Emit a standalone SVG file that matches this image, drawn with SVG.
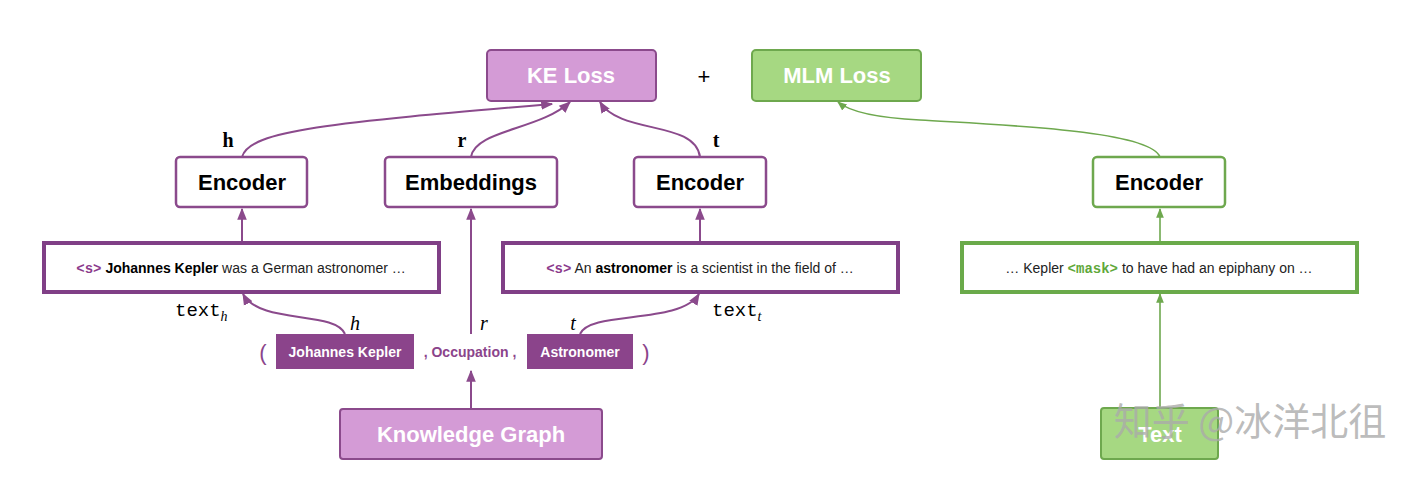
<svg xmlns="http://www.w3.org/2000/svg" width="1428" height="480" viewBox="0 0 1428 480">
<style>
.pb{fill:#d49bd6;stroke:#8b4a8c;stroke-width:2}
.gb{fill:#a6d882;stroke:#6ea84e;stroke-width:2}
.pw{fill:#fff;stroke:#8b4a8c;stroke-width:2.5}
.gw{fill:#fff;stroke:#6ea84e;stroke-width:2.5}
.pt{fill:#fff;stroke:#803f86;stroke-width:4}
.gt{fill:#fff;stroke:#6aaa4a;stroke-width:4}
.ent{fill:#8b448b}
.lt{font-family:"Liberation Sans",Arial,sans-serif;font-weight:bold;fill:#fff;text-anchor:middle}
.bt{font-family:"Liberation Sans",Arial,sans-serif;font-weight:bold;fill:#000;font-size:22px;text-anchor:middle}
.st{font-family:"Liberation Sans",Arial,sans-serif;font-size:14px;fill:#222;text-anchor:middle}
.m{font-family:"Liberation Serif",serif;font-size:20px;fill:#000}
.mono{font-family:"Liberation Mono",monospace;font-size:19px;fill:#000}
.pc{stroke:#8b4a8c;stroke-width:2;fill:none;marker-end:url(#ap)}
.gc{stroke:#6ea84e;stroke-width:1.6;fill:none;marker-end:url(#ag)}
</style>
<defs>
<marker id="ap" viewBox="0 0 10 10" refX="9" refY="5" markerWidth="6" markerHeight="6" orient="auto"><path d="M0,1 L10,5 L0,9 z" fill="#8b4a8c"/></marker>
<marker id="ag" viewBox="0 0 10 10" refX="9" refY="5" markerWidth="6" markerHeight="6" orient="auto"><path d="M0,1 L10,5 L0,9 z" fill="#6ea84e"/></marker>
</defs>
<g id="connectors">
<path class="pc" d="M242,157 C250,130 330,123 552,104"/>
<path class="pc" d="M471,157 C475,130 540,130 570,102"/>
<path class="pc" d="M700,157 C695,120 620,135 600,102"/>
<path class="gc" d="M1160,157 C1150,130 1000,125 920,120 C880,118 850,112 838,102"/>
<path class="pc" d="M242,242 V209"/>
<path class="pc" d="M700,242 V209"/>
<path class="pc" d="M471,334 V209"/>
<path class="pc" d="M471,409 V371"/>
<path class="gc" d="M1160,242 V209"/>
<path class="gc" d="M1160,408 V294"/>
<path class="pc" d="M345,334 C335,310 260,325 243,294"/>
<path class="pc" d="M580,334 C590,310 680,325 699,294"/>
</g>
<g id="ke-loss"><rect class="pb" x="487" y="50" width="169" height="51" rx="4"/><text class="lt" x="571" y="83" font-size="22">KE Loss</text></g>
<text x="704" y="84" font-family="Liberation Sans,sans-serif" font-size="22" text-anchor="middle">+</text>
<g id="mlm-loss"><rect class="gb" x="752" y="50" width="169" height="51" rx="4"/><text class="lt" x="837" y="83" font-size="22">MLM Loss</text></g>
<g id="encoder-h"><rect class="pw" x="176" y="157" width="131" height="50" rx="4"/><text class="bt" x="242" y="190">Encoder</text></g>
<g id="embeddings"><rect class="pw" x="385" y="157" width="172" height="50" rx="4"/><text class="bt" x="471" y="190">Embeddings</text></g>
<g id="encoder-t"><rect class="pw" x="634" y="157" width="132" height="50" rx="4"/><text class="bt" x="700" y="190">Encoder</text></g>
<g id="encoder-mlm"><rect class="gw" x="1093" y="157" width="132" height="50" rx="4"/><text class="bt" x="1159" y="190">Encoder</text></g>
<text class="m" x="228" y="147" text-anchor="middle" font-weight="bold">h</text>
<text class="m" x="462" y="147" text-anchor="middle" font-weight="bold">r</text>
<text class="m" x="716" y="147" text-anchor="middle" font-weight="bold">t</text>
<g id="text-h"><rect class="pt" x="44" y="243" width="395" height="49"/>
<text class="st" x="241" y="273"><tspan fill="#8b3a8c" font-family="Liberation Mono,monospace" font-weight="bold">&lt;s&gt;</tspan> <tspan font-weight="bold" fill="#000">Johannes Kepler</tspan> was a German astronomer …</text></g>
<g id="text-t"><rect class="pt" x="503" y="243" width="395" height="49"/>
<text class="st" x="700" y="273"><tspan fill="#8b3a8c" font-family="Liberation Mono,monospace" font-weight="bold">&lt;s&gt;</tspan> An <tspan font-weight="bold" fill="#000">astronomer</tspan> is a scientist in the field of  …</text></g>
<g id="text-mlm"><rect class="gt" x="962" y="243" width="395" height="49"/>
<text class="st" x="1159" y="273">… Kepler <tspan fill="#5fa83a" font-family="Liberation Mono,monospace" font-weight="bold">&lt;mask&gt;</tspan> to have had an epiphany on …</text></g>
<text class="mono" x="175" y="316">text<tspan font-family="Liberation Serif,serif" font-style="italic" font-size="14" dy="5">h</tspan></text>
<text class="mono" x="712" y="316">text<tspan font-family="Liberation Serif,serif" font-style="italic" font-size="14" dy="5">t</tspan></text>
<text class="m" x="355" y="330" font-style="italic" text-anchor="middle">h</text>
<text class="m" x="484" y="330" font-style="italic" text-anchor="middle">r</text>
<text class="m" x="573" y="330" font-style="italic" text-anchor="middle">t</text>
<text x="263" y="360" font-family="Liberation Sans,sans-serif" font-size="22" fill="#8b448b" text-anchor="middle" font-weight="300">(</text>
<text x="646" y="360" font-family="Liberation Sans,sans-serif" font-size="22" fill="#8b448b" text-anchor="middle">)</text>
<g id="johannes-kepler"><rect class="ent" x="276" y="334" width="138" height="35"/><text class="lt" x="345" y="357" font-size="14">Johannes Kepler</text></g>
<g id="occupation"><text x="470" y="357" font-family="Liberation Sans,sans-serif" font-size="14" font-weight="bold" fill="#8b448b" text-anchor="middle">, Occupation ,</text></g>
<g id="astronomer"><rect class="ent" x="527" y="334" width="106" height="35"/><text class="lt" x="580" y="357" font-size="14">Astronomer</text></g>
<g id="knowledge-graph"><rect class="pb" x="340" y="409" width="262" height="50" rx="3"/><text class="lt" x="471" y="442" font-size="22">Knowledge Graph</text></g>
<g id="text-node"><rect class="gb" x="1101" y="408" width="117" height="51" rx="3"/><text class="lt" x="1160" y="442" font-size="22">Text</text></g>
<text x="1250" y="435" font-family="Noto Sans CJK SC,sans-serif" font-size="38" fill="#aaa" fill-opacity="0.8" text-anchor="middle">知乎 @冰洋北徂</text>
</svg>
